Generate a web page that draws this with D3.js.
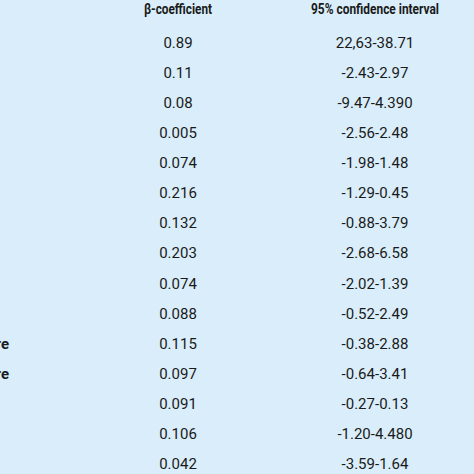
<!DOCTYPE html>
<html><head><meta charset="utf-8">
<script src="https://cdn.jsdelivr.net/npm/d3@7"></script>
<style>body{margin:0;background:#d9eefa}svg{display:block}</style>
</head><body><svg id="t" width="474" height="474"></svg>
<script>
// table columns
var headers = ["β-coefficient", "95% confidence interval"];
var labels = ["", "", "", "", "", "", "", "", "", "", "re", "re", "", "", ""];
var beta = ["0.89", "0.11", "0.08", "0.005", "0.074", "0.216", "0.132", "0.203", "0.074", "0.088", "0.115", "0.097", "0.091", "0.106", "0.042"];
var ci = ["22,63-38.71", "-2.43-2.97", "-9.47-4.390", "-2.56-2.48", "-1.98-1.48", "-1.29-0.45", "-0.88-3.79", "-2.68-6.58", "-2.02-1.39", "-0.52-2.49", "-0.38-2.88", "-0.64-3.41", "-0.27-0.13", "-1.20-4.480", "-3.59-1.64"];

var svg = d3.select("#t");
var font = "'Roboto', sans-serif";
svg.append("rect").attr("width", 474).attr("height", 474).attr("fill", "#d9eefa");

var y = d3.scaleLinear().domain([0, beta.length - 1]).range([44, 465]);
var xs = {label: 9, beta: 178, ci: 375};

svg.selectAll(".h").data(headers).enter().append("text")
  .attr("x", (d, i) => i ? xs.ci : xs.beta).attr("y", 10)
  .attr("text-anchor", "middle").attr("dominant-baseline", "middle")
  .attr("font-family", font).attr("font-weight", "bold").attr("font-size", 14)
  .attr("textLength", (d, i) => i ? 128 : 68).attr("lengthAdjust", "spacingAndGlyphs")
  .attr("fill", "#1a1a1a").text(d => d);

function col(arr, key, anchor, bold) {
  svg.selectAll(".c-" + key).data(arr).enter().append("text")
    .attr("x", xs[key]).attr("y", (d, i) => y(i))
    .attr("text-anchor", anchor).attr("dominant-baseline", "middle")
    .attr("font-family", font).attr("font-size", 15)
    .attr("font-weight", bold ? "bold" : "normal")
    .attr("fill", "#1a1a1a").text(d => d);
}
col(labels, "label", "end", true);
col(beta, "beta", "middle", false);
col(ci, "ci", "middle", false);
</script></body></html>
